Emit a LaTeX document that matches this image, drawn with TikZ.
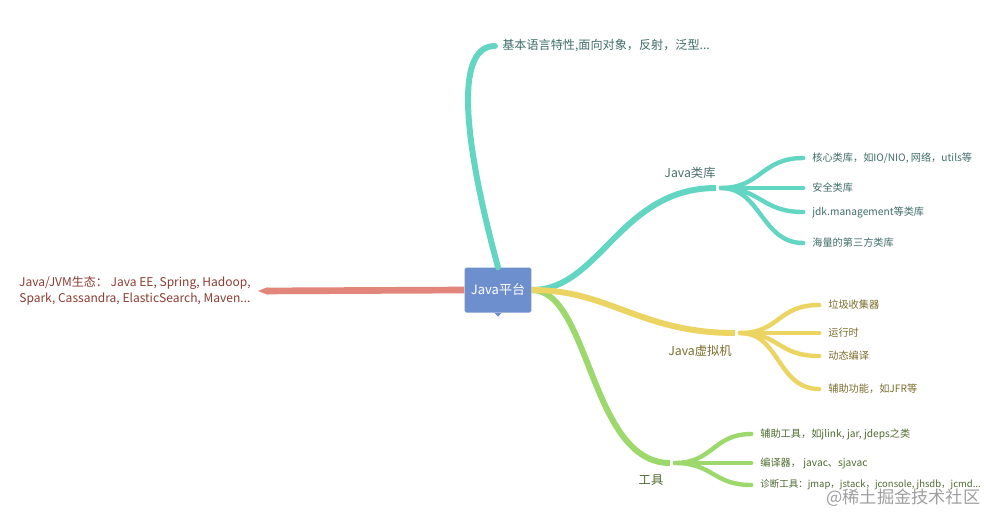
\documentclass[tikz,border=0pt]{standalone}
\usepackage{fontspec}
\setmainfont{Noto Sans CJK SC}
\usetikzlibrary{arrows.meta,positioning}

\definecolor{rootblue}{HTML}{6E8FCE}
\definecolor{tealbr}{HTML}{62D6C2}
\definecolor{yellowbr}{HTML}{EBD462}
\definecolor{greenbr}{HTML}{9CD86C}
\definecolor{redbr}{HTML}{E2857A}
\definecolor{tealtx}{HTML}{3F6D68}
\definecolor{yellowtx}{HTML}{7C6C2C}
\definecolor{greentx}{HTML}{4E6A30}
\definecolor{redtx}{HTML}{8C3C34}

\tikzset{
  branch/.style={line width=3.4pt},
  twig/.style={line width=2.5pt, line cap=round},
  leaf/.style={anchor=west, inner sep=0pt, font=\fontsize{5.8}{7}\selectfont},
  hub/.style={inner sep=0pt, font=\fontsize{7}{8}\selectfont},
}

\begin{document}
\begin{tikzpicture}[x=0.02cm,y=-0.02cm]
  \fill[white] (0,0) rectangle (1002,522);
  \useasboundingbox (0,0) rectangle (1002,522);

  \draw (498,290) node[fill=rootblue, text=white, rounded corners=1pt, minimum width=1.34cm, minimum height=0.9cm, inner sep=0pt, font=\fontsize{7.4}{8}\selectfont] (root) {Java平台};
  \fill[rootblue] ([xshift=-2pt]root.north) -- ([yshift=2.2pt]root.north) -- ([xshift=2pt]root.north) -- cycle;
  \fill[rootblue] ([xshift=-2pt]root.south) -- ([yshift=-2.2pt]root.south) -- ([xshift=2pt]root.south) -- cycle;
  \fill[rootblue] ([yshift=-2pt]root.west) -- ([xshift=-2.2pt]root.west) -- ([yshift=2pt]root.west) -- cycle;
  \fill[rootblue] ([yshift=-2pt]root.east) -- ([xshift=2.2pt]root.east) -- ([yshift=2pt]root.east) -- cycle;

  % basic language
  \draw (502,46) node[leaf, text=tealtx, font=\fontsize{6.9}{8}\selectfont] (lang) {基本语言特性,面向对象，反射，泛型...};
  \draw[branch, tealbr, line cap=round] (root.north) .. controls (466,150) and (452,46) .. ([xshift=-4pt]lang.west);

  % ecosystem
  \draw (251,291) node[hub, text=redtx, align=center, font=\fontsize{6.85}{9}\selectfont, anchor=east] (eco) {Java/JVM生态： Java EE, Spring, Hadoop,\\Spark, Cassandra, ElasticSearch, Maven...};
  \draw[branch, redbr, line width=3.8pt, -{Triangle[length=6pt, width=0pt 1]}] (root.west) -- ([xshift=3.5pt]eco.east);

  % class libraries
  \draw (690,173) node[hub, text=tealtx!80!gray] (lib) {Java类库};
  \coordinate (libj) at (716,188);
  \coordinate (libs) at (721,188);
  \draw[branch, tealbr] (root.east) .. controls (600,290) and (620,188) .. (libj);
  \draw (812,158) node[leaf, text=tealtx] (lib1) {核心类库，如IO/NIO, 网络，utils等};
  \draw (812,188) node[leaf, text=tealtx] (lib2) {安全类库};
  \draw (812,212) node[leaf, text=tealtx] (lib3) {jdk.management等类库};
  \draw (812,243) node[leaf, text=tealtx] (lib4) {海量的第三方类库};
  \foreach \n in {lib1,lib2,lib3,lib4}
    \draw[twig, tealbr] (libs) .. controls +(40,0) and +(-42,0) .. ([xshift=-5pt]\n.west);

  % tools
  \draw (651,480) node[hub, text=greentx] (tool) {工具};
  \coordinate (toolj) at (670,463);
  \coordinate (tools) at (675,463);
  \draw[branch, greenbr] (root.east) .. controls (590,290) and (590,463) .. (toolj);
  \draw (760,434) node[leaf, text=greentx] (tool1) {辅助工具，如jlink, jar, jdeps之类};
  \draw (760,463) node[leaf, text=greentx] (tool2) {编译器， javac、sjavac};
  \draw (760,485) node[leaf, text=greentx, font=\fontsize{5.4}{7}\selectfont] (tool3) {诊断工具：jmap，jstack，jconsole, jhsdb，jcmd...};
  \foreach \n in {tool1,tool2,tool3}
    \draw[twig, greenbr] (tools) .. controls +(38,0) and +(-38,0) .. ([xshift=-5pt]\n.west);

  % virtual machine
  \draw (700,351) node[hub, text=yellowtx] (jvm) {Java虚拟机};
  \coordinate (jvmj) at (735,333);
  \coordinate (jvms) at (740,333);
  \draw[branch, yellowbr] (root.east) .. controls (610,290) and (640,333) .. (jvmj);
  \draw (828,305) node[leaf, text=yellowtx] (jvm1) {垃圾收集器};
  \draw (828,333) node[leaf, text=yellowtx] (jvm2) {运行时};
  \draw (828,356) node[leaf, text=yellowtx] (jvm3) {动态编译};
  \draw (828,389) node[leaf, text=yellowtx] (jvm4) {辅助功能，如JFR等};
  \foreach \n in {jvm1,jvm2,jvm3,jvm4}
    \draw[twig, yellowbr] (jvms) .. controls +(40,0) and +(-42,0) .. ([xshift=-5pt]\n.west);

  \draw (826,498) node[anchor=west, inner sep=0pt, text=gray!75, font=\fontsize{9.8}{12}\selectfont] (mark) {@稀土掘金技术社区};
\end{tikzpicture}
\end{document}
